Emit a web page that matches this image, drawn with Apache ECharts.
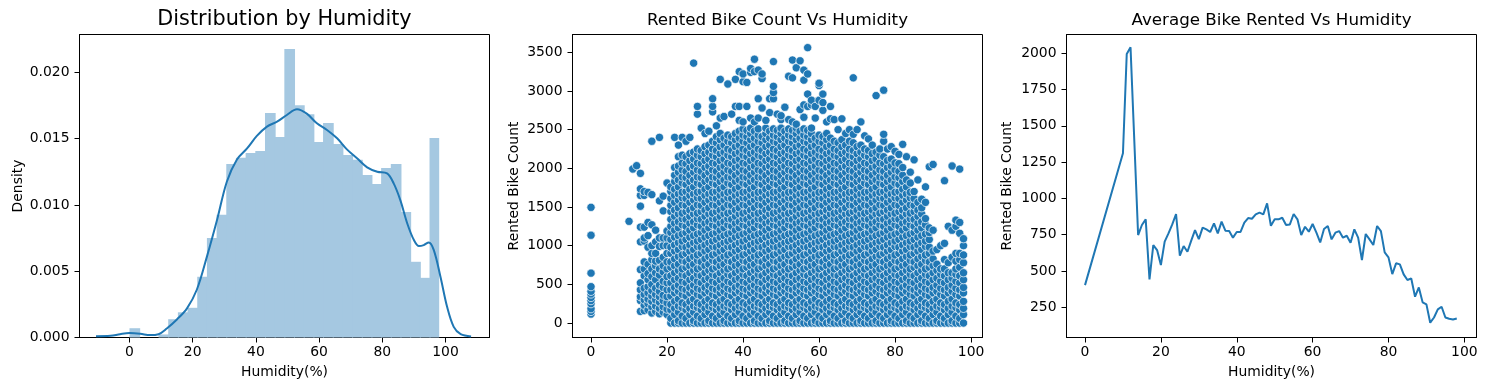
<!DOCTYPE html>
<html><head><meta charset="utf-8">
<script src="https://cdn.jsdelivr.net/npm/echarts@6/dist/echarts.min.js"></script>
<style>html,body{margin:0;padding:0;background:#fff}#c{width:1488px;height:390px}</style>
</head><body><div id="c"></div>
<script>
// ---------- data ----------
const histBinCount = 32, histLow = 0, histHigh = 98;
const histDensity = [0.0007,0,0,0.00023,0.00138,0.0019,0.00224,0.00458,0.0075,0.00926,0.01308,0.01356,0.01391,0.01406,0.01693,0.01512,0.02176,0.01751,0.01683,0.01474,0.01618,0.01459,0.01376,0.01341,0.01225,0.01157,0.01278,0.01308,0.00946,0.00571,0.0045,0.01504];
const kdeHumidity = [-10.6,-6,-3,0,3.4,6.5,9.2,11.8,15,18.2,21.3,24.5,27.7,30.8,34,37.2,40.3,43.5,46.7,49.8,53,56.2,59.3,62.5,65.7,68.8,72,75.2,78.4,81.5,83.6,85.7,87.9,90,91.6,93.1,94.7,96.3,98.4,100.5,102.6,104.8,108.1];
const kdeDensity = [0.0001,0.00013,0.00025,0.00033,0.00028,0.00018,0.00025,0.00068,0.00136,0.0022,0.0036,0.0061,0.00886,0.01175,0.01343,0.01426,0.0152,0.0159,0.01628,0.01678,0.01721,0.01686,0.01615,0.01565,0.01502,0.01419,0.01351,0.01283,0.0125,0.01238,0.01162,0.01036,0.0086,0.00735,0.0069,0.00697,0.00717,0.00659,0.00458,0.00231,0.0008,0.00025,0.00008];

const scatterHumidity = [0,10,11,12,13,14,15,16,17,18,19,20,21,22,23,24,25,26,27,28,29,30,31,32,33,34,35,36,37,38,39,40,41,42,43,44,45,46,47,48,49,50,51,52,53,54,55,56,57,58,59,60,61,62,63,64,65,66,67,68,69,70,71,72,73,74,75,76,77,78,79,80,81,82,83,84,85,86,87,88,89,90,91,92,93,94,95,96,97,98];
const scatterCounts = [
[116,150,185,250,290,330,375,410,470,645,1135,1496],
[1315],
[1991],
[2034],
[150,290,340,430,520,690,1050,1240,1510,1650,1735,1935],
[160,230,300,370,450,610,700,790,1060,1100,1240,1650,1700],
[170,250,310,390,470,560,640,760,980,1130,1300,1690],
[130,210,280,350,420,500,600,700,820,900,1000,1270,1660,2350],
[150,220,300,370,450,560,650,740,800,900,1050,1200],
[120,190,270,340,410,490,620,700,810,990,1100,1580,2400],
[140,210,290,360,460,540,660,740,850,1000,1100,1450,1640],
[110,180,260,340,430,520,600,700,790,900,1000,1100,1190,1810],
[0,60,170,240,350,430,520,610,720,790,900,980,1080,1170,1250,1340,1440,1520,1610,1700,1760],
[0,110,190,280,390,460,560,650,740,830,930,1010,1110,1200,1290,1380,1460,1560,1650,1730,1830,1910,2010,2400],
[0,30,140,220,310,410,490,580,680,760,860,950,1040,1130,1230,1310,1410,1490,1590,1670,1760,1850,1950,2030,2150,2300],
[0,90,200,260,370,450,540,630,700,810,880,990,1060,1150,1270,1350,1420,1530,1620,1690,1810,1890,1980,2070,2170,2400],
[0,60,170,240,350,430,520,610,720,790,900,980,1080,1170,1250,1340,1440,1520,1610,1700,1790,1880,1960,2060,2150,2350],
[0,110,190,280,390,460,560,650,740,830,930,1010,1110,1200,1290,1380,1460,1560,1650,1730,1830,1910,2010,2100,2190,2400],
[0,30,140,220,310,410,490,580,680,760,860,950,1040,1130,1230,1310,1410,1490,1590,1670,1760,1850,1950,2030,2120,2210,3360],
[0,90,200,260,370,450,540,630,700,810,880,990,1060,1150,1270,1350,1420,1530,1620,1690,1810,1890,1980,2070,2170,2250,2700,2800],
[0,60,170,240,350,430,520,610,720,790,900,980,1080,1170,1250,1340,1440,1520,1610,1700,1790,1880,1960,2060,2150,2230,2520],
[0,110,190,280,390,460,560,650,740,830,930,1010,1110,1200,1290,1380,1460,1560,1650,1730,1830,1910,2010,2100,2190,2280,2450],
[0,30,140,220,310,410,490,580,680,760,860,950,1040,1130,1230,1310,1410,1490,1590,1670,1760,1850,1950,2030,2120,2210,2300,2480],
[0,90,200,260,370,450,540,630,700,810,880,990,1060,1150,1270,1350,1420,1530,1620,1690,1810,1890,1980,2070,2170,2250,2350,2730,2800,2900],
[0,60,170,240,350,430,520,610,720,790,900,980,1080,1170,1250,1340,1440,1520,1610,1700,1790,1880,1960,2060,2150,2230,2330,2410,2550],
[0,110,190,280,390,460,560,650,740,830,930,1010,1110,1200,1290,1380,1460,1560,1650,1730,1830,1910,2010,2100,2190,2280,2370,2450,2650,3150],
[0,30,140,220,310,410,490,580,680,760,860,950,1040,1130,1230,1310,1410,1490,1590,1670,1760,1850,1950,2030,2120,2210,2300,2390,2670],
[0,90,200,260,370,450,540,630,700,810,880,990,1060,1150,1270,1350,1420,1530,1620,1690,1810,1890,1980,2070,2170,2250,2350,2430,3090],
[0,60,170,240,350,430,520,610,720,790,900,980,1080,1170,1250,1340,1440,1520,1610,1700,1790,1880,1960,2060,2150,2230,2330,2410,2700],
[0,110,190,280,390,460,560,650,740,830,930,1010,1110,1200,1290,1380,1460,1560,1650,1730,1830,1910,2010,2100,2190,2280,2370,2450,2800,3150],
[0,30,140,220,310,410,490,580,680,760,860,950,1040,1130,1230,1310,1410,1490,1590,1670,1760,1850,1950,2030,2120,2210,2300,2390,2480,2620,2800,3250],
[0,90,200,260,370,450,540,630,700,810,880,990,1060,1150,1270,1350,1420,1530,1620,1690,1810,1890,1980,2070,2170,2250,2350,2430,2510,2600,3120,3220],
[0,60,170,240,350,430,520,610,720,790,900,980,1080,1170,1250,1340,1440,1520,1610,1700,1790,1880,1960,2060,2150,2230,2330,2410,2490,2800,3110],
[0,110,190,280,390,460,560,650,740,830,930,1010,1110,1200,1290,1380,1460,1560,1650,1730,1830,1910,2010,2100,2190,2280,2370,2450,2520,2650,3240,3290],
[0,30,140,220,310,410,490,580,680,760,860,950,1040,1130,1230,1310,1410,1490,1590,1670,1760,1850,1950,2030,2120,2210,2300,2390,2480,2600,3250,3410],
[0,90,200,260,370,450,540,630,700,810,880,990,1060,1150,1270,1350,1420,1530,1620,1690,1810,1890,1980,2070,2170,2250,2350,2430,2510,2650,2900,3270],
[0,60,170,240,350,430,520,610,720,790,900,980,1080,1170,1250,1340,1440,1520,1610,1700,1790,1880,1960,2060,2150,2230,2330,2410,2780,3160,3220],
[0,110,190,280,390,460,560,650,740,830,930,1010,1110,1200,1290,1380,1460,1560,1650,1730,1830,1910,2010,2100,2190,2280,2370,2450,2520,2620],
[0,30,140,220,310,410,490,580,680,760,860,950,1040,1130,1230,1310,1410,1490,1590,1670,1760,1850,1950,2030,2120,2210,2300,2390,2480,2720,2900],
[0,90,200,260,370,450,540,630,700,810,880,990,1060,1150,1270,1350,1420,1530,1620,1690,1810,1890,1980,2070,2170,2250,2350,2430,2510,2900,2980,3060,3380],
[0,60,170,240,350,430,520,610,720,790,900,980,1080,1170,1250,1340,1440,1520,1610,1700,1790,1880,1960,2060,2150,2230,2330,2410,2490,2700],
[0,110,190,280,390,460,560,650,740,830,930,1010,1110,1200,1290,1380,1460,1560,1650,1730,1830,1910,2010,2100,2190,2280,2370,2450,2520,2630,2680],
[0,30,140,220,310,410,490,580,680,760,860,950,1040,1130,1230,1310,1410,1490,1590,1670,1760,1850,1950,2030,2120,2210,2300,2390,2480,2790],
[0,90,200,260,370,450,540,630,700,810,880,990,1060,1150,1270,1350,1420,1530,1620,1690,1810,1890,1980,2070,2170,2250,2350,2430,2510,2630,3190],
[0,60,170,240,350,430,520,610,720,790,900,980,1080,1170,1250,1340,1440,1520,1610,1700,1790,1880,1960,2060,2150,2230,2330,2410,2490,2600,3170,3400],
[0,110,190,280,390,460,560,650,740,830,930,1010,1110,1200,1290,1380,1460,1560,1650,1730,1830,1910,2010,2100,2190,2280,2370,2450,2520,2570,3300],
[0,30,140,220,310,410,490,580,680,760,860,950,1040,1130,1230,1310,1410,1490,1590,1670,1760,1850,1950,2030,2120,2210,2300,2390,2480,2760,3390],
[0,90,200,260,370,450,540,630,700,810,880,990,1060,1150,1270,1350,1420,1530,1620,1690,1810,1890,1980,2070,2170,2250,2350,2430,2510,2660,2820,3140,3270],
[0,60,170,240,350,430,520,610,720,790,900,980,1080,1170,1250,1340,1440,1520,1610,1700,1790,1880,1960,2060,2150,2230,2330,2410,2490,2800,2960,3220,3560],
[0,110,190,280,390,460,560,650,740,830,930,1010,1110,1200,1290,1380,1460,1560,1650,1730,1830,1910,2010,2100,2190,2280,2370,2450,2520,2820,2880],
[0,30,140,220,310,410,490,580,680,760,860,950,1040,1130,1230,1310,1410,1490,1590,1670,1760,1850,1950,2030,2120,2210,2300,2390,2650,2800],
[0,90,200,260,370,450,540,630,700,810,880,990,1060,1150,1270,1350,1420,1530,1620,1690,1810,1890,1980,2070,2170,2250,2350,2430,2880,3070,3100],
[0,60,170,240,350,430,520,610,720,790,900,980,1080,1170,1250,1340,1440,1520,1610,1700,1790,1880,1960,2060,2150,2230,2330,2410,2750,2850,2960],
[0,110,190,280,390,460,560,650,740,830,930,1010,1110,1200,1290,1380,1460,1560,1650,1730,1830,1910,2010,2100,2190,2280,2370,2450,2600],
[0,30,140,220,310,410,490,580,680,760,860,950,1040,1130,1230,1310,1410,1490,1590,1670,1760,1850,1950,2030,2120,2210,2300,2390,2640,2800],
[0,90,200,260,370,450,540,630,700,810,880,990,1060,1150,1270,1350,1420,1530,1620,1690,1810,1890,1980,2070,2170,2250,2350,2630],
[0,60,170,240,350,430,520,610,720,790,900,980,1080,1170,1250,1340,1440,1520,1610,1700,1790,1880,1960,2060,2150,2230,2330,2500],
[0,110,190,280,390,460,560,650,740,830,930,1010,1110,1200,1290,1380,1460,1560,1650,1730,1830,1910,2010,2100,2190,2280,2370,2640],
[0,30,140,220,310,410,490,580,680,760,860,950,1040,1130,1230,1310,1410,1490,1590,1670,1760,1850,1950,2030,2120,2210,2300,2450],
[0,90,200,260,370,450,540,630,700,810,880,990,1060,1150,1270,1350,1420,1530,1620,1690,1810,1890,1980,2070,2170,2250,2350,2500],
[0,60,170,240,350,430,520,610,720,790,900,980,1080,1170,1250,1340,1440,1520,1610,1700,1790,1880,1960,2060,2150,2230,2330,2440,3170],
[0,110,190,280,390,460,560,650,740,830,930,1010,1110,1200,1290,1380,1460,1560,1650,1730,1830,1910,2010,2100,2190,2280,2500],
[0,30,140,220,310,410,490,580,680,760,860,950,1040,1130,1230,1310,1410,1490,1590,1670,1760,1850,1950,2030,2120,2210,2300,2600],
[0,90,200,260,370,450,540,630,700,810,880,990,1060,1150,1270,1350,1420,1530,1620,1690,1810,1890,1980,2070,2170,2250,2420],
[0,60,170,240,350,430,520,610,720,790,900,980,1080,1170,1250,1340,1440,1520,1610,1700,1790,1880,1960,2060,2150,2230,2380],
[0,110,190,280,390,460,560,650,740,830,930,1010,1110,1200,1290,1380,1460,1560,1650,1730,1830,1910,2010,2100,2190,2300],
[0,30,140,220,310,410,490,580,680,760,860,950,1040,1130,1230,1310,1410,1490,1590,1670,1760,1850,1950,2030,2120,2210,2940],
[0,90,200,260,370,450,540,630,700,810,880,990,1060,1150,1270,1350,1420,1530,1620,1690,1810,1890,1980,2070,2170,2250],
[0,60,170,240,350,430,520,610,720,790,900,980,1080,1170,1250,1340,1440,1520,1610,1700,1790,1880,1960,2060,2150,2350,2440,3010],
[0,110,190,280,390,460,560,650,740,830,930,1010,1110,1200,1290,1380,1460,1560,1650,1730,1830,1910,2010,2100,2250],
[0,30,140,220,310,410,490,580,680,760,860,950,1040,1130,1230,1310,1410,1490,1590,1670,1760,1850,1950,2030,2120,2280],
[0,90,200,260,370,450,540,630,700,810,880,990,1060,1150,1270,1350,1420,1530,1620,1690,1810,1890,1980,2070,2220],
[0,60,170,240,350,430,520,610,720,790,900,980,1080,1170,1250,1340,1440,1520,1610,1700,1790,1880,1960,2060,2180],
[0,110,190,280,390,460,560,650,740,830,930,1010,1110,1200,1290,1380,1460,1560,1650,1730,1830,1910,2010,2310],
[0,30,140,220,310,410,490,580,680,760,860,950,1040,1130,1230,1310,1410,1490,1590,1670,1760,1850,2150],
[0,90,200,260,370,450,540,630,700,810,880,990,1060,1150,1270,1350,1420,1530,1620,1690,1810,1950],
[0,60,170,240,350,430,520,610,720,790,900,980,1080,1170,1250,1340,1440,1520,1610,1700,2110],
[0,110,190,280,390,460,560,650,740,830,930,1010,1110,1200,1290,1380,1460,1560,1850],
[0,30,140,220,310,410,490,580,680,760,860,950,1040,1130,1230,1310,1410,1490,1600],
[0,90,200,260,370,450,540,630,700,810,880,990,1060,1150,1270,1350,1560,1760],
[0,60,170,240,350,430,520,610,720,790,900,980,1080,1170,1230,2020],
[0,110,190,280,390,460,560,650,740,830,930,1200,2050],
[0,30,140,220,310,410,490,580,680,760,950],
[0,90,200,260,370,450,540,630,700,1000],
[0,60,170,240,350,430,520,610,700,820,1030,1840],
[0,110,190,280,390,460,560,650,780,1250],
[0,30,140,220,310,410,490,580,650,850,1200,2030],
[0,90,200,260,370,450,540,630,700,800,900,1250,1330],
[0,60,170,240,350,430,520,610,720,820,900,1160,1300,1990],
[0,110,190,280,390,460,560,650,780,880,1000,1090]
];

const lineHumidity = [0,10,11,12,14,15,16,17,18,19,20,21,22,23,24,25,26,27,28,29,30,31,32,33,34,35,36,37,38,39,40,41,42,43,44,45,46,47,48,49,50,51,52,53,54,55,56,57,58,59,60,61,62,63,64,65,66,67,68,69,70,71,72,73,74,75,76,77,78,79,80,81,82,83,84,85,86,87,88,89,90,91,92,93,94,95,96,97,98];
const lineAvgCount = [403,1311,1995,2041,748,817,856,442,679,644,541,702,759,821,893,606,672,633,709,782,720,799,787,769,828,759,840,778,775,730,769,769,833,865,860,890,902,890,966,812,856,856,867,817,821,893,856,748,805,771,824,764,697,789,810,718,764,775,730,743,695,787,730,576,755,718,679,810,775,628,594,479,553,546,477,438,449,323,387,284,270,144,180,236,254,180,171,166,173];

const humidityTicks = [0,20,40,60,80,100];
const densityTicks = [0,0.005,0.01,0.015,0.02];
const countTicks = [0,500,1000,1500,2000,2500,3000,3500];
const avgTicks = [250,500,750,1000,1250,1500,1750,2000];

// ---------- chart ----------
const FONT = 'DejaVu Sans';
const BLUE = '#1f77b4';
const chart = echarts.init(document.getElementById('c'), null, {renderer: 'canvas'});

function xAxisCfg(gridIndex, min, max) {
  return {
    type: 'value', gridIndex, min, max,
    name: 'Humidity(%)', nameLocation: 'middle', nameGap: 28,
    nameTextStyle: {color: '#000', fontSize: 13.9, fontFamily: FONT},
    axisLine: {show: true, onZero: false, lineStyle: {color: '#000', width: 1}},
    axisTick: {show: true, length: 5, lineStyle: {color: '#000', width: 1}, customValues: humidityTicks},
    axisLabel: {color: '#000', fontSize: 13.9, fontFamily: FONT, margin: 8, customValues: humidityTicks},
    splitLine: {show: false}
  };
}
function yAxisCfg(gridIndex, min, max, ticks, name, gap, fmt) {
  return {
    type: 'value', gridIndex, min, max,
    name, nameLocation: 'middle', nameGap: gap,
    nameTextStyle: {color: '#000', fontSize: 13.9, fontFamily: FONT},
    axisLine: {show: true, onZero: false, lineStyle: {color: '#000', width: 1}},
    axisTick: {show: true, length: 5, lineStyle: {color: '#000', width: 1}, customValues: ticks},
    axisLabel: {color: '#000', fontSize: 13.9, fontFamily: FONT, margin: 10, customValues: ticks, formatter: fmt},
    splitLine: {show: false}
  };
}

const histData = histDensity.map((d, i) => [i, d]);
const binWidth = (histHigh - histLow) / histBinCount;
const kdeData = kdeHumidity.map((h, i) => [h, kdeDensity[i]]);
const scatterData = [];
scatterHumidity.forEach((h, i) => scatterCounts[i].forEach(v => scatterData.push([h, v])));
const lineData = lineHumidity.map((h, i) => [h, lineAvgCount[i]]);

const gridBase = {top: 34.5, height: 303, width: 410, show: true, borderColor: '#000', borderWidth: 1, backgroundColor: 'transparent', containLabel: false};

chart.setOption({
  animation: false,
  backgroundColor: '#fff',
  textStyle: {fontFamily: FONT},
  grid: [
    Object.assign({left: 79.5}, gridBase),
    Object.assign({left: 572.5}, gridBase),
    Object.assign({left: 1066.5}, gridBase)
  ],
  graphic: [
    {type: 'text', x: 284.5, y: 20, style: {text: 'Distribution by Humidity', font: '20.8px "DejaVu Sans"', fill: '#000', textAlign: 'center', textVerticalAlign: 'middle'}},
    {type: 'text', x: 777.5, y: 20.5, style: {text: 'Rented Bike Count Vs Humidity', font: '16.7px "DejaVu Sans"', fill: '#000', textAlign: 'center', textVerticalAlign: 'middle'}},
    {type: 'text', x: 1271.5, y: 20.5, style: {text: 'Average Bike Rented Vs Humidity', font: '16.7px "DejaVu Sans"', fill: '#000', textAlign: 'center', textVerticalAlign: 'middle'}}
  ],
  xAxis: [
    xAxisCfg(0, -15.82, 113.92),
    xAxisCfg(1, -4.87, 103.0),
    xAxisCfg(2, -4.88, 103.2)
  ],
  yAxis: [
    yAxisCfg(0, 0, 0.02285, densityTicks, 'Density', 54, v => v.toFixed(3)),
    yAxisCfg(1, -187, 3730, countTicks, 'Rented Bike Count', 51, v => String(v)),
    yAxisCfg(2, 42, 2129.5, avgTicks, 'Rented Bike Count', 52, v => String(v))
  ],
  series: [
    {
      type: 'custom', xAxisIndex: 0, yAxisIndex: 0, data: histData,
      renderItem: function (params, api) {
        const i = api.value(0), d = api.value(1);
        if (!d) return null;
        const x0 = histLow + i * binWidth, x1 = x0 + binWidth;
        const p0 = api.coord([x0, d]);
        const p1 = api.coord([x1, 0]);
        const extra = (i < histBinCount - 1) ? 1 : 0;
        return {type: 'rect', shape: {x: p0[0], y: p0[1], width: p1[0] - p0[0] + extra, height: p1[1] - p0[1]},
          style: {fill: '#a5c8e1'}};
      },
      z: 1
    },
    {
      type: 'line', xAxisIndex: 0, yAxisIndex: 0, data: kdeData,
      smooth: 0.35, showSymbol: false, symbol: 'none',
      lineStyle: {color: BLUE, width: 2}, z: 3
    },
    {
      type: 'scatter', xAxisIndex: 1, yAxisIndex: 1, data: scatterData,
      symbol: 'circle', symbolSize: 8.3, large: false, progressive: 0,
      itemStyle: {color: BLUE, borderColor: '#fff', borderWidth: 0.7, opacity: 1}
    },
    {
      type: 'line', xAxisIndex: 2, yAxisIndex: 2, data: lineData,
      showSymbol: false, symbol: 'none', smooth: false,
      lineStyle: {color: BLUE, width: 2}
    }
  ]
});
</script>
</body></html>
